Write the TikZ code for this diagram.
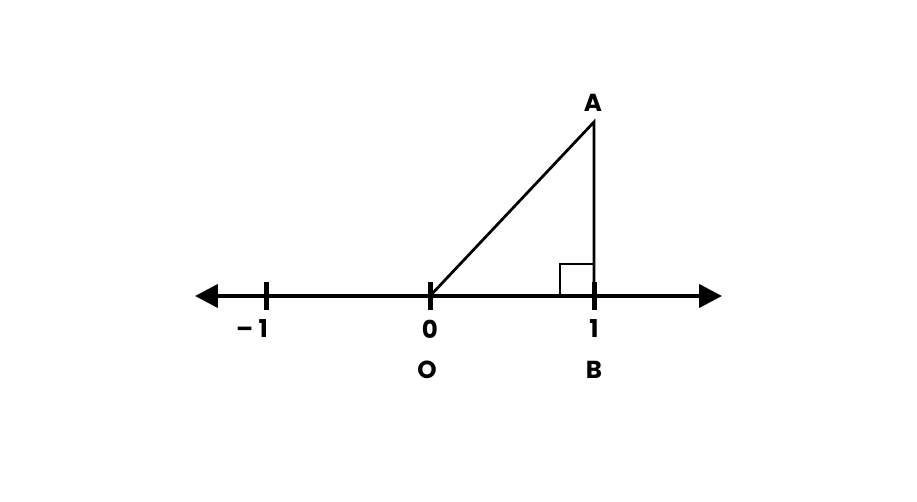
\documentclass[tikz,border=0pt]{standalone}
\usepackage{fontspec}
\setmainfont{Poppins}
\usetikzlibrary{arrows.meta}

\tikzset{
  lbl/.style={font=\bfseries\fontsize{14}{16}\selectfont, inner sep=0pt},
  tick/.style={line width=1mm},
}

\begin{document}
\begin{tikzpicture}[x=0.02cm, y=-0.02cm]
                                \useasboundingbox (0, 0) rectangle (917, 502);
                                \coordinate (L) at (195, 296);
                                \coordinate (R) at (722, 296);
                                \coordinate (M) at (266, 296);
                                \coordinate (O) at (430, 296);
                                \coordinate (B) at (594, 296);
                                \coordinate (A) at (594, 122);

                                \draw [line width=0.85mm, {Triangle[length=4.6mm, width=4.6mm]}-{Triangle[length=4.6mm, width=4.6mm]}] (L) -- (R);
                                \foreach \p in {M, O, B}
                                    \draw [tick] ([yshift=-8]\p) -- ([yshift=8]\p);

                                \draw [line width=0.55mm] (O) -- (A) -- (B);
                                \draw [line width=0.5mm] (594, 264) -- (560, 264) -- (560, 296);

                                \node (m1) at (252, 329) [lbl] {–\hspace{3pt}1};
                                \node (n0) at (430, 329) [lbl] {0};
                                \node (n1) at (594, 329) [lbl] {1};
                                \node (lO) at (427, 370) [lbl] {O};
                                \node (lB) at (594, 370) [lbl] {B};
                                \node (lA) at (593, 103) [lbl] {A};
                            \end{tikzpicture}
\end{document}
